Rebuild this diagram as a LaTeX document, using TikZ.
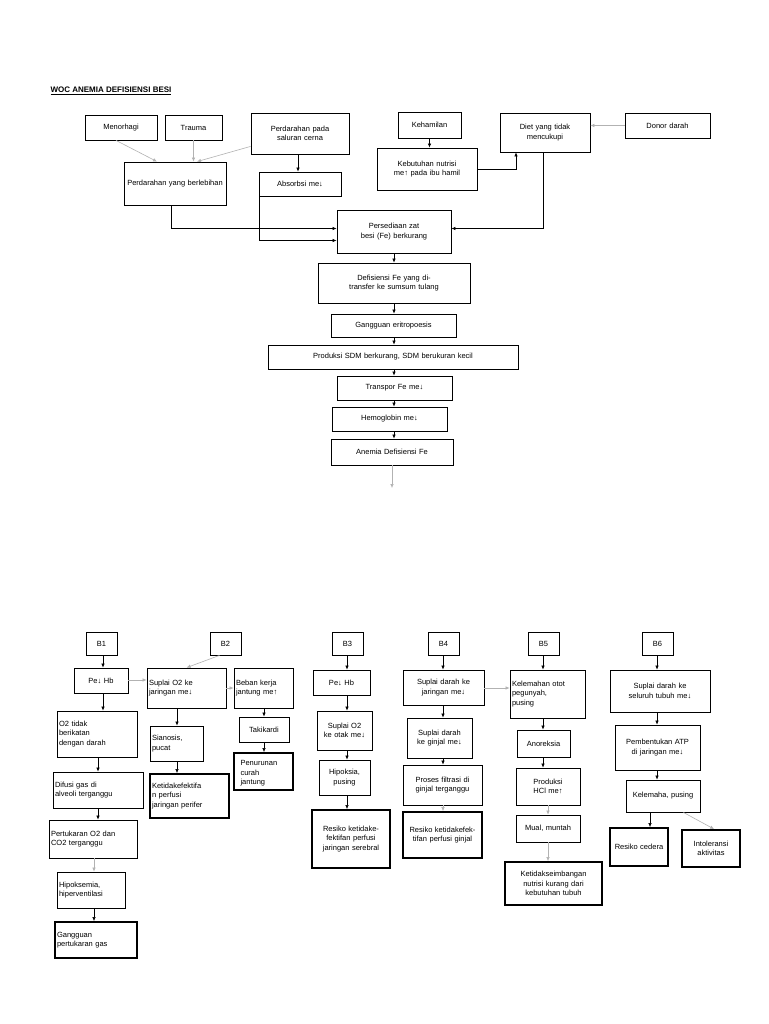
\documentclass[tikz,border=0pt]{standalone}
\usepackage{fontspec}
\setmainfont{Liberation Sans}
\usetikzlibrary{arrows.meta}
\newcommand\bx[7][]{\node[box,#1,minimum width={(#5-#3)*1pt},minimum height={(#6-#4)*1pt},text width={(#5-#3-4)*1pt}] (#2) at ({(#3+#5)/2},{(#4+#6)/2}) {#7};}
\begin{document}
\begin{tikzpicture}[x=1pt,y=-1pt,
 box/.style={draw,line width=0.8pt,inner sep=1pt,align=center,font=\fontsize{7.5}{9.5}\selectfont},
 tb/.style={line width=1.8pt},
 ar/.style={-{Latex[length=4pt,width=3.5pt]},line width=0.6pt},
 gr/.style={ar,draw=black!30}]
\useasboundingbox[fill=white] (0,0) rectangle (768,1024);
\node[anchor=west,font=\bfseries\fontsize{8}{9}\selectfont] (title) at (47,91) {\underline{WOC ANEMIA DEFISIENSI BESI}};
% top
\bx{meno}{85}{115}{157}{140}{Menorhagi}
\bx{trau}{165}{115}{222}{140}{Trauma}
\bx{sal}{251}{113}{349}{154}{Perdarahan pada saluran cerna}
\bx{perd}{124}{162}{226}{205}{Perdarahan yang berlebihan}
\bx{abs}{259}{172}{341}{196}{Absorbsi me↓}
\bx{keh}{398}{112}{461}{138}{Kehamilan}
\bx{keb}{377}{148}{477}{190}{Kebutuhan nutrisi me↑ pada ibu hamil}
\bx{diet}{500}{113}{590}{152}{Diet yang tidak mencukupi}
\bx{donor}{625}{113}{710}{138}{Donor darah}
\bx{pers}{337}{210}{451}{253}{Persediaan zat besi (Fe) berkurang}
\bx{def}{318}{263}{470}{303}{Defisiensi Fe yang ditransfer ke sumsum tulang}
\bx{gang}{331}{314}{456}{337}{Gangguan eritropoesis}
\bx{prod}{268}{345}{518}{369}{Produksi SDM berkurang, SDM berukuran kecil}
\bx{trans}{337}{376}{452}{400}{Transpor Fe me↓}
\bx{hemo}{332}{407}{447}{431}{Hemoglobin me↓}
\bx{anem}{331}{439}{453}{465}{Anemia Defisiensi Fe}
\coordinate (endA) at (392,488);
\draw[gr] (meno.south) ++(-5,0) -- ([xshift=-18pt]perd.north);
\draw[gr] (trau.south) -- (trau.south |- perd.north);
\draw[gr] ([yshift=8pt]sal.south west) -- ([xshift=22pt]perd.north);
\draw[ar] (sal.south -| abs.north) ++(-2,0) -- ([xshift=-2pt]abs.north);
\draw[ar] ([xshift=-41pt]abs.south) |- ([yshift=-9pt]pers.west);
\draw[ar] ([xshift=-4pt]perd.south) |- ([yshift=3pt]pers.west);
\draw[ar] (keh.south) -- (keh.south |- keb.north);
\draw[ar] (keb.east) -| ([xshift=-29pt]diet.south);
\draw[ar] ([xshift=-2pt]diet.south) |- ([yshift=3pt]pers.east);
\draw[gr] (donor.west) -- (donor.west -| diet.east);
\foreach \a/\b in {pers/def,def/gang,gang/prod,prod/trans,trans/hemo,hemo/anem}
  \draw[ar] (\a.south -| 394,0) -- (\b.north -| 394,0);
\draw[ar,draw=black!30] (anem.south -| endA) -- (endA);
% bottom
\foreach \n/\x in {b1/86,b2/210,b3/332,b4/428,b5/528,b6/642}
  {\pgfmathsetmacro\xe{\x+31}\bx{\n}{\x}{632}{\xe}{655}{\MakeUppercase{\n}}}
\bx{hb1}{74}{668}{128}{693}{Pe↓ Hb}
\bx[align=left]{o2}{57}{711}{137}{757}{O2 tidak\\berikatan\\dengan darah}
\bx[align=left]{dif}{53}{772}{143}{808}{Difusi gas di\\alveoli terganggu}
\bx[align=left]{pert}{49}{820}{137}{858}{Pertukaran O2 dan\\CO2 terganggu}
\bx[align=left]{hipx}{57}{872}{125}{908}{Hipoksemia,\\hiperventilasi}
\bx[tb,align=left]{gg}{55}{922}{137}{958}{Gangguan\\pertukaran gas}
\bx[align=left]{sup2}{147}{668}{226}{708}{Suplai O2 ke\\jaringan me↓}
\bx[align=left]{sian}{150}{726}{203}{761}{Sianosis,\\pucat}
\bx[tb,align=left]{ket2}{150}{774}{229}{818}{Ketidakefektifa\\n perfusi\\jaringan perifer}
\bx[align=left]{beb}{234}{668}{293}{708}{Beban kerja\\jantung me↑}
\bx{tak}{239}{717}{289}{742}{Takikardi}
\bx[tb]{pen}{234}{753}{293}{790}{}
\begin{scope}
\clip (236,755) rectangle (291,788);
\node[font=\fontsize{7.5}{9.5}\selectfont,align=left,anchor=north west] (pent) at (237,757) {Penurunan\\curah\\jantung};
\end{scope}
\bx{hb3}{313}{670}{370}{695}{Pe↓ Hb}
\bx{sup3}{317}{711}{372}{750}{Suplai O2 ke otak me↓}
\bx{hip3}{319}{760}{370}{795}{Hipoksia, pusing}
\bx[tb]{res3}{312}{810}{390}{868}{Resiko ketidakefektifan perfusi jaringan serebral}
\bx{sup4}{403}{670}{484}{705}{Suplai darah ke jaringan me↓}
\bx{gin}{407}{718}{472}{758}{Suplai darah ke ginjal me↓}
\bx{fil}{403}{765}{482}{805}{Proses filtrasi di ginjal terganggu}
\bx[tb]{res4}{403}{812}{482}{858}{Resiko ketidakefektifan perfusi ginjal}
\bx[align=left]{kel}{510}{670}{585}{718}{Kelemahan otot\\pegunyah,\\pusing}
\bx{ano}{517}{730}{570}{757}{Anoreksia}
\bx{hcl}{516}{768}{580}{805}{Produksi HCl me↑}
\bx{mual}{516}{815}{580}{842}{Mual, muntah}
\bx[tb]{nut}{505}{862}{602}{905}{Ketidakseimbangan nutrisi kurang dari kebutuhan tubuh}
\bx{sup6}{610}{670}{710}{712}{Suplai darah ke seluruh tubuh me↓}
\bx{atp}{615}{725}{700}{770}{Pembentukan ATP di jaringan me↓}
\bx{kelm}{626}{780}{700}{812}{Kelemaha, pusing}
\bx[tb]{ced}{610}{828}{668}{866}{Resiko cedera}
\bx[tb]{int}{682}{830}{740}{867}{Intoleransi aktivitas}
% bottom arrows
\newcommand\vd[3]{\draw[ar] (#1.south -| #3,0) -- (#2.north -| #3,0);}
\newcommand\vg[3]{\draw[gr] (#1.south -| #3,0) -- (#2.north -| #3,0);}
\vd{b1}{hb1}{103}\vd{hb1}{o2}{103}\vd{o2}{dif}{98}\vd{dif}{pert}{98}\vg{pert}{hipx}{94}\vd{hipx}{gg}{94}
\draw[gr] ([xshift=-6pt]b2.south) -- ([xshift=40pt]sup2.north west);
\draw[gr] (hb1.east |- 0,680) -- (sup2.west |- 0,680);
\draw[gr] (sup2.east |- 0,688) -- (beb.west |- 0,688);
\vd{sup2}{sian}{177}\vd{sian}{ket2}{177}
\vd{beb}{tak}{264}\vd{tak}{pen}{264}
\vd{b3}{hb3}{347}\vd{hb3}{sup3}{347}\vd{sup3}{hip3}{347}\vd{hip3}{res3}{347}
\vd{b4}{sup4}{443}\vd{sup4}{gin}{443}\vd{gin}{fil}{443}\vg{fil}{res4}{443}
\draw[gr] (sup4.east |- 0,688) -- (kel.west |- 0,688);
\vd{b5}{kel}{543}\vd{kel}{ano}{543}\vd{ano}{hcl}{543}\vg{hcl}{mual}{548}\vg{mual}{nut}{548}
\vd{b6}{sup6}{657}\vd{sup6}{atp}{657}\vd{atp}{kelm}{657}\vd{kelm}{ced}{650}
\draw[gr] ([xshift=-17pt]kelm.south east) -- ([xshift=33pt]int.north west);
\end{tikzpicture}
\end{document}
